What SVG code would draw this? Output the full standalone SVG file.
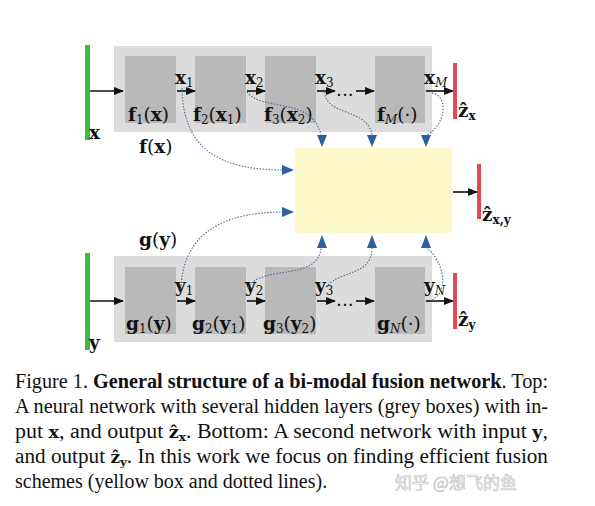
<svg xmlns="http://www.w3.org/2000/svg" width="595" height="506" viewBox="0 0 595 506">
<style>
.cont{fill:#dcdcdc}
.box{fill:#b9b9b9}
.green{fill:#3dbb3d}
.red{fill:#e2484f}
.m{font-family:"DejaVu Serif","Liberation Serif",serif;font-size:18.5px;fill:#111}
.b{font-weight:bold}
.s{font-size:12px}
.arr{stroke:#111;stroke-width:1.6;fill:none;marker-end:url(#ah)}
.dot{stroke:#4a6b9a;stroke-width:1.1;stroke-dasharray:1.5 1.5;fill:none}
.bh{fill:#2f5f9e}
.cap{font-family:"Liberation Serif","Times New Roman",serif;font-size:20px;fill:#111}
.cm{font-family:"DejaVu Serif",serif;font-size:16px;font-weight:bold}
.cms{font-family:"DejaVu Serif",serif;font-size:11px;font-weight:bold}
</style>
<defs>
<marker id="ah" markerWidth="10" markerHeight="8" refX="9" refY="4" orient="auto" markerUnits="userSpaceOnUse">
<path d="M0,0 L10,4 L0,8 Z" fill="#111"/>
</marker>
</defs>
<rect width="595" height="506" fill="#fff"/>

<g id="top-network">
<rect class="cont" x="114" y="46" width="318" height="86"/>
<rect class="green" x="85" y="45" width="5" height="95"/>
<text class="m b" x="89" y="139">x</text>
<text class="m" x="139" y="153"><tspan class="b">f</tspan>(<tspan class="b">x</tspan>)</text>
<rect class="red" x="453" y="63" width="4" height="56"/>
<text class="m" x="458" y="117"><tspan class="b">ẑ</tspan><tspan class="s b" dy="3">x</tspan></text>
</g>
<g id="f1"><rect class="box" x="125" y="56" width="51" height="67"/><text class="m" x="128" y="121"><tspan class="b">f</tspan><tspan class="s" dy="3">1</tspan><tspan dy="-3">(</tspan><tspan class="b">x</tspan>)</text></g>
<g id="f2"><rect class="box" x="195" y="56" width="51" height="67"/><text class="m" x="193" y="121"><tspan class="b">f</tspan><tspan class="s" dy="3">2</tspan><tspan dy="-3">(</tspan><tspan class="b">x</tspan><tspan class="s" dy="3">1</tspan><tspan dy="-3">)</tspan></text></g>
<g id="f3"><rect class="box" x="265" y="56" width="51" height="67"/><text class="m" x="264" y="121"><tspan class="b">f</tspan><tspan class="s" dy="3">3</tspan><tspan dy="-3">(</tspan><tspan class="b">x</tspan><tspan class="s" dy="3">2</tspan><tspan dy="-3">)</tspan></text></g>
<g id="fM"><rect class="box" x="375" y="56" width="50" height="67"/><text class="m" x="377" y="121"><tspan class="b">f</tspan><tspan class="s" font-style="italic" dy="3">M</tspan><tspan dy="-3">(·)</tspan></text></g>
<g id="x-labels">
<text class="m" x="175" y="84"><tspan class="b">x</tspan><tspan class="s" dy="3">1</tspan></text>
<text class="m" x="245" y="84"><tspan class="b">x</tspan><tspan class="s" dy="3">2</tspan></text>
<text class="m" x="315" y="84"><tspan class="b">x</tspan><tspan class="s" dy="3">3</tspan></text>
<text class="m" x="336" y="96">...</text>
<text class="m" x="424" y="84"><tspan class="b">x</tspan><tspan class="s" font-style="italic" dy="3">M</tspan></text>
</g>

<g id="bottom-network">
<rect class="cont" x="114" y="256" width="318" height="86"/>
<rect class="green" x="85" y="253" width="5" height="97"/>
<text class="m b" x="89" y="349">y</text>
<text class="m" x="139" y="246"><tspan class="b">g</tspan>(<tspan class="b">y</tspan>)</text>
<rect class="red" x="453" y="273" width="4" height="56"/>
<text class="m" x="458" y="326"><tspan class="b">ẑ</tspan><tspan class="s b" dy="3">y</tspan></text>
</g>
<g id="g1"><rect class="box" x="125" y="267" width="51" height="67"/><text class="m" x="126" y="330"><tspan class="b">g</tspan><tspan class="s" dy="3">1</tspan><tspan dy="-3">(</tspan><tspan class="b">y</tspan>)</text></g>
<g id="g2"><rect class="box" x="195" y="267" width="51" height="67"/><text class="m" x="192" y="330"><tspan class="b">g</tspan><tspan class="s" dy="3">2</tspan><tspan dy="-3">(</tspan><tspan class="b">y</tspan><tspan class="s" dy="3">1</tspan><tspan dy="-3">)</tspan></text></g>
<g id="g3"><rect class="box" x="265" y="267" width="51" height="67"/><text class="m" x="263" y="330"><tspan class="b">g</tspan><tspan class="s" dy="3">3</tspan><tspan dy="-3">(</tspan><tspan class="b">y</tspan><tspan class="s" dy="3">2</tspan><tspan dy="-3">)</tspan></text></g>
<g id="gN"><rect class="box" x="375" y="267" width="50" height="67"/><text class="m" x="377" y="330"><tspan class="b">g</tspan><tspan class="s" font-style="italic" dy="3">N</tspan><tspan dy="-3">(·)</tspan></text></g>
<g id="y-labels">
<text class="m" x="175" y="292"><tspan class="b">y</tspan><tspan class="s" dy="3">1</tspan></text>
<text class="m" x="245" y="292"><tspan class="b">y</tspan><tspan class="s" dy="3">2</tspan></text>
<text class="m" x="315" y="292"><tspan class="b">y</tspan><tspan class="s" dy="3">3</tspan></text>
<text class="m" x="336" y="306">...</text>
<text class="m" x="424" y="292"><tspan class="b">y</tspan><tspan class="s" font-style="italic" dy="3">N</tspan></text>
</g>

<g id="fusion">
<rect x="295" y="148" width="157" height="85" fill="#fdf8c8"/>
<rect class="red" x="477" y="164" width="4" height="55"/>
<text class="m" x="482" y="221"><tspan class="b">ẑ</tspan><tspan class="s b" dy="3">x,y</tspan></text>
</g>

<g id="connectors">
<path class="arr" d="M90,91 H123"/>
<path class="arr" d="M177,91 H195"/>
<path class="arr" d="M247,91 H265"/>
<path class="arr" d="M317,91 H335"/>
<path class="arr" d="M356,91 H374"/>
<path class="arr" d="M426,91 H453"/>
<path class="arr" d="M90,301 H123"/>
<path class="arr" d="M177,301 H195"/>
<path class="arr" d="M247,301 H265"/>
<path class="arr" d="M317,301 H335"/>
<path class="arr" d="M356,301 H374"/>
<path class="arr" d="M426,301 H453"/>
<path class="arr" d="M453,192 H477"/>

<path class="dot" d="M182,88 C183,150 220,170 284,170"/>
<path class="dot" d="M247,92 C262,112 312,96 321,135"/>
<path class="dot" d="M325,92 C325,116 368,108 372,135"/>
<path class="dot" d="M432,93 C449,96 446,124 427,135"/>
<path class="dot" d="M181,292 C181,230 228,212 284,212"/>
<path class="dot" d="M248,288 C260,264 318,282 321,248"/>
<path class="dot" d="M326,287 C340,270 372,276 372,248"/>
<path class="dot" d="M432,300 C451,290 442,260 427,248"/>

<path class="bh" d="M282,165 L294,170 L282,175 Z"/>
<path class="bh" d="M282,207 L294,212 L282,217 Z"/>
<path class="bh" d="M317,135 L322,147 L327,135 Z"/>
<path class="bh" d="M367,135 L372,147 L377,135 Z"/>
<path class="bh" d="M421,135 L426,147 L431,135 Z"/>
<path class="bh" d="M317,248 L322,235 L327,248 Z"/>
<path class="bh" d="M367,248 L372,235 L377,248 Z"/>
<path class="bh" d="M421,248 L426,235 L431,248 Z"/>
</g>

<g id="caption">
<text class="cap" x="15" y="388" textLength="533" lengthAdjust="spacingAndGlyphs">Figure 1. <tspan font-weight="bold">General structure of a bi-modal fusion network</tspan>. Top:</text>
<text class="cap" x="15" y="413" textLength="533" lengthAdjust="spacingAndGlyphs">A neural network with several hidden layers (grey boxes) with in-</text>
<text class="cap" x="15" y="438" textLength="533" lengthAdjust="spacingAndGlyphs">put <tspan class="cm">x</tspan>, and output <tspan class="cm">ẑ</tspan><tspan class="cms" dy="3">x</tspan><tspan dy="-3">.  Bottom:  A second network with input </tspan><tspan class="cm">y</tspan>,</text>
<text class="cap" x="15" y="463" textLength="533" lengthAdjust="spacingAndGlyphs">and output <tspan class="cm">ẑ</tspan><tspan class="cms" dy="3">y</tspan><tspan dy="-3">.  In this work we focus on finding efficient fusion</tspan></text>
<text class="cap" x="15" y="488">schemes (yellow box and dotted lines).</text>
<text x="395" y="489" font-family="Noto Sans CJK SC, sans-serif" font-size="17" fill="#fff" stroke="#c4c4c4" stroke-width="0.7">知乎 @想飞的鱼</text>
</g>
</svg>
